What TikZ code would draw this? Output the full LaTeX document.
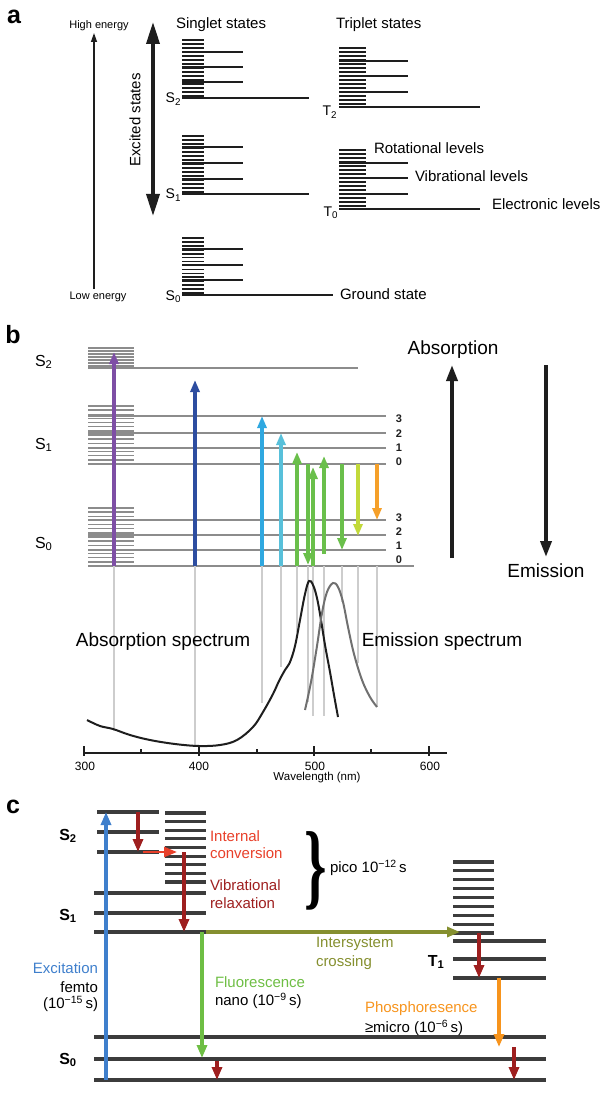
\documentclass[tikz,border=0pt]{standalone}
\usepackage{fontspec}
\setmainfont{Liberation Sans}
\newfontfamily\bracefont{Liberation Serif}
\usetikzlibrary{arrows.meta}
\definecolor{ink}{HTML}{1E1E1E}
\definecolor{lvgray}{HTML}{8C8C8C}
\definecolor{guide}{HTML}{CDCDCD}
\definecolor{bpurple}{HTML}{7E4FA5}
\definecolor{bblue}{HTML}{2D4DA0}
\definecolor{bcyan}{HTML}{2FA8E0}
\definecolor{bcyanlt}{HTML}{58C0DA}
\definecolor{bgreen}{HTML}{6ABF4B}
\definecolor{byellow}{HTML}{C2D93A}
\definecolor{borange}{HTML}{F5A02A}
\definecolor{specgray}{HTML}{707070}
\definecolor{cgray}{HTML}{3C3C3C}
\definecolor{cblue}{HTML}{3F7FCC}
\definecolor{cdred}{HTML}{9E1F1F}
\definecolor{cred}{HTML}{E8402A}
\definecolor{cgreen}{HTML}{6EBE44}
\definecolor{colive}{HTML}{858F2F}
\definecolor{corange}{HTML}{F7941D}
\newcommand\fs[1]{\fontsize{#1}{#1}\selectfont}
\newcommand\hatchset[6]{%
  \foreach \i in {0,...,#6}{%
    \pgfmathsetmacro\yy{#4+(#5-#4)*\i/#6}%
    \draw[#1] (#2,\yy) -- (#3,\yy);
  }}
\tikzset{
  lbl/.style={font=\bfseries\fs{25}},
  ahatch/.style={line width=1.6pt, draw=ink},
  alev/.style={line width=1.9pt, draw=ink},
  bhatch/.style={line width=1.3pt, draw=lvgray},
  blev/.style={line width=1.7pt, draw=lvgray},
  guideline/.style={line width=1.2pt, draw=guide},
  barrow/.style={line width=3.1pt, -{Triangle[length=12pt,width=9pt]}},
  bigarrow/.style={line width=3.6pt, draw=ink, -{Triangle[length=16pt,width=11pt]}},
  clev/.style={line width=3.5pt, draw=cgray},
  chatch/.style={line width=3.1pt, draw=cgray},
  carrow/.style={line width=3.1pt, -{Triangle[length=13pt,width=10pt]}},
}
\begin{document}
\begin{tikzpicture}[x=1pt,y=-1pt,every node/.style={inner sep=0pt,outer sep=0pt}]
\useasboundingbox (0,0) rectangle (612,1102);
% ================= panel a =================
\node[lbl] (la) at (14,17) {a};
\node[font=\fs{11}] (hi) at (99,26) {High energy};
\node[font=\fs{11}] (lo) at (98,297) {Low energy};
\coordinate (hiA) at (94,33);
\coordinate (loA) at (94,289);
\draw[line width=1.3pt, draw=ink, -{Triangle[length=9pt,width=6pt]}] (loA) -- (hiA);
\coordinate (exT) at (153,22);
\coordinate (exB) at (153,216);
\draw[line width=3.6pt, draw=ink, {Triangle[length=22pt,width=13pt]}-{Triangle[length=22pt,width=13pt]}] (exT) -- (exB);
\node[rotate=90, font=\fs{15}] (exc) at (135,120) {Excited states};
\node[anchor=west, font=\fs{15}] (sing) at (176,25) {Singlet states};
\node[anchor=west, font=\fs{15}] (trip) at (336,25) {Triplet states};
% S2
\hatchset{ahatch}{182}{204}{40}{96}{14}
\foreach \y in {52,67,82} \draw[alev] (182,\y) -- (243,\y);
\draw[alev] (182,98) -- (309,98);
% S1
\hatchset{ahatch}{182}{204}{136}{192}{14}
\foreach \y in {147,163,179} \draw[alev] (182,\y) -- (243,\y);
\draw[alev] (182,194) -- (309,194);
% S0
\hatchset{ahatch}{182}{204}{238}{293}{14}
\foreach \y in {249,265,280} \draw[alev] (182,\y) -- (243,\y);
\draw[alev] (182,295) -- (333,295);
% T2
\hatchset{ahatch}{339}{366}{48}{104}{14}
\foreach \y in {61,76,92} \draw[alev] (339,\y) -- (408,\y);
\draw[alev] (339,107) -- (480,107);
% T0
\hatchset{ahatch}{339}{366}{150}{206}{14}
\foreach \y in {163,178,194} \draw[alev] (339,\y) -- (408,\y);
\draw[alev] (339,209) -- (480,209);
\node[anchor=base east, font=\fs{14}] (s2a) at (181,103) {S\textsubscript{2}};
\node[anchor=base east, font=\fs{14}] (s1a) at (181,199) {S\textsubscript{1}};
\node[anchor=base east, font=\fs{14}] (s0a) at (181,300) {S\textsubscript{0}};
\node[anchor=base east, font=\fs{14}] (t2a) at (337,116) {T\textsubscript{2}};
\node[anchor=base east, font=\fs{14}] (t0a) at (338,216) {T\textsubscript{0}};
\node[anchor=west, font=\fs{15}] (rot) at (374,148) {Rotational levels};
\node[anchor=west, font=\fs{15}] (vib) at (415,176) {Vibrational levels};
\node[anchor=west, font=\fs{15}] (ele) at (492,204) {Electronic levels};
\node[anchor=west, font=\fs{15}] (gnd) at (340,294) {Ground state};
% ================= panel b =================
\node[lbl] (lb) at (13,335) {b};
\node[anchor=base west, font=\fs{16}] (s2b) at (35,366) {S\textsubscript{2}};
\node[anchor=base west, font=\fs{16}] (s1b) at (35,449) {S\textsubscript{1}};
\node[anchor=base west, font=\fs{16}] (s0b) at (35,548) {S\textsubscript{0}};
\hatchset{bhatch}{88}{134}{348}{366}{6}
\hatchset{bhatch}{88}{134}{406}{464}{14}
\hatchset{bhatch}{88}{134}{508}{566}{14}
\draw[blev] (88,368) -- (358,368);
\foreach \y in {416,433,448,464} \draw[blev] (88,\y) -- (386,\y);
\foreach \y in {520,535,550} \draw[blev] (88,\y) -- (386,\y);
\draw[blev] (88,566) -- (414,566);
\foreach \y/\t in {419/3,434/2,448/1,462/0,518/3,532/2,546/1,560/0}
  \node[font=\bfseries\fs{11}, text=ink] at (399,\y) {\t};
% guide lines
\foreach \x/\e in {114/731,195/746,262/703,281/667,297/632,308/702,313/716,324/716,342/602,358/663,377/707}
  \draw[guideline] (\x,566) -- (\x,\e);
% spectra
\draw[line width=2pt, draw=ink] plot[smooth, tension=0.6] coordinates {(87,720) (100,726) (113,729) (130,735) (150,740) (175,744) (199,746) (220,745) (237,740) (253,727) (263,712) (273,694) (279,681) (285,670) (290,662) (295,646) (300,620) (305,594) (309,581) (313,585) (317,598) (321,620) (325,645) (330,672) (334,695) (338,717)};
\draw[line width=2pt, draw=specgray] plot[smooth, tension=0.6] coordinates {(305,710) (311,682) (317,646) (322,613) (327,592) (333,583) (338,587) (343,602) (348,627) (354,654) (362,680) (370,697) (377,707)};
\draw[line width=1.9pt, draw=ink] (84,753) -- (447,753);
\foreach \x in {84,199,314,429} \draw[line width=1.6pt, draw=ink] (\x,746) -- (\x,756);
\foreach \x in {141,257,371} \draw[line width=1.6pt, draw=ink] (\x,749) -- (\x,753);
\foreach \x/\t in {85/300,199/400,315/500,430/600}
  \node[font=\fs{12}] at (\x,766) {\t};
\node[font=\fs{11.5}] (wl) at (317,778) {Wavelength (nm)};
\node[font=\fs{19}] (abss) at (163,642) {Absorption spectrum};
\node[font=\fs{19}] (emis) at (442,642) {Emission spectrum};
% transitions
\draw[barrow, draw=bpurple, fill=bpurple] (114,566) -- (114,352);
\draw[barrow, draw=bblue, fill=bblue] (195,566) -- (195,380);
\draw[barrow, draw=bcyan, fill=bcyan] (262,566) -- (262,416);
\draw[barrow, draw=bcyanlt, fill=bcyanlt] (281,566) -- (281,433);
\draw[barrow, draw=bgreen, fill=bgreen] (297,566) -- (297,452);
\draw[barrow, draw=bgreen, fill=bgreen] (308,464) -- (308,565);
\draw[barrow, draw=bgreen, fill=bgreen] (313,566) -- (313,467);
\draw[barrow, draw=bgreen, fill=bgreen] (324,554) -- (324,456);
\draw[barrow, draw=bgreen, fill=bgreen] (342,464) -- (342,550);
\draw[barrow, draw=byellow, fill=byellow] (358,464) -- (358,536);
\draw[barrow, draw=borange, fill=borange] (377,464) -- (377,520);
\node[font=\fs{19}] (absl) at (453,350) {Absorption};
\node[font=\fs{19}] (emil) at (546,571) {Emission};
\coordinate (abB) at (452,558); \coordinate (abT) at (452,365);
\coordinate (emT) at (546,365); \coordinate (emB) at (546,557);
\draw[bigarrow, fill=ink] (abB) -- (abT);
\draw[bigarrow, fill=ink] (emT) -- (emB);
% ================= panel c =================
\node[lbl] (lc) at (13,807) {c};
\draw[clev] (97,812) -- (159,812);
\draw[clev] (97,832) -- (159,832);
\draw[clev] (97,852) -- (159,852);
\hatchset{chatch}{165}{206}{813}{882}{8}
\foreach \y in {893,913,932} \draw[clev] (94,\y) -- (206,\y);
\hatchset{chatch}{453}{494}{862}{933}{8}
\foreach \y in {941,959,978} \draw[clev] (453,\y) -- (546,\y);
\foreach \y in {1037,1059,1080} \draw[clev] (94,\y) -- (546,\y);
\node[anchor=base, font=\bfseries\fs{16}] (s2c) at (68,840) {S\textsubscript{2}};
\node[anchor=base, font=\bfseries\fs{16}] (s1c) at (68,920) {S\textsubscript{1}};
\node[anchor=base, font=\bfseries\fs{16}] (s0c) at (68,1064) {S\textsubscript{0}};
\node[anchor=base, font=\bfseries\fs{16}] (t1c) at (436,966) {T\textsubscript{1}};
% arrows c
\draw[carrow, draw=cblue, fill=cblue] (106,1080) -- (106,812);
\draw[carrow, draw=cdred, fill=cdred] (138,812) -- (138,852);
\draw[carrow, draw=cred, fill=cred, line width=2.6pt] (143,852) -- (177,852);
\draw[carrow, draw=cdred, fill=cdred] (184,852) -- (184,932);
\draw[carrow, draw=colive, fill=colive] (206,932) -- (460,932);
\draw[carrow, draw=cgreen, fill=cgreen] (202,932) -- (202,1058);
\draw[carrow, draw=cdred, fill=cdred] (217,1061) -- (217,1080);
\draw[carrow, draw=cdred, fill=cdred] (479,933) -- (479,978);
\draw[carrow, draw=corange, fill=corange] (499,978) -- (499,1047);
\draw[carrow, draw=cdred, fill=cdred] (514,1047) -- (514,1080);
% texts c
\node[anchor=west, font=\fs{15}, text=cred] (ic1) at (210,836) {Internal};
\node[anchor=west, font=\fs{15}, text=cred] (ic2) at (210,853) {conversion};
\node[anchor=west, font=\fs{15}, text=cdred] (vr1) at (210,885) {Vibrational};
\node[anchor=west, font=\fs{15}, text=cdred] (vr2) at (210,903) {relaxation};
\node[font=\bracefont\bfseries\fs{95}, xscale=0.6] (brace) at (316,871) {\}};
\node[anchor=west, font=\fs{15}] (pico) at (330,868) {pico 10\textsuperscript{−12}\,s};
\node[anchor=east, font=\fs{15}, text=cblue] (ex1) at (98,968) {Excitation};
\node[anchor=east, font=\fs{15}] (ex2) at (98,987) {femto};
\node[anchor=east, font=\fs{15}] (ex3) at (98,1004) {(10\textsuperscript{−15}\,s)};
\node[anchor=west, font=\fs{15}, text=cgreen] (fl1) at (215,982) {Fluorescence};
\node[anchor=west, font=\fs{15}] (fl2) at (215,1001) {nano (10\textsuperscript{−9}\,s)};
\node[anchor=west, font=\fs{15}, text=colive] (is1) at (316,944) {Intersystem};
\node[anchor=west, font=\fs{15}, text=colive] (is2) at (316,963) {crossing};
\node[anchor=west, font=\fs{15}, text=corange] (ph1) at (365,1009) {Phosphoresence};
\node[anchor=west, font=\fs{15}] (ph2) at (365,1028) {≥micro (10\textsuperscript{−6}\,s)};
\end{tikzpicture}
\end{document}
